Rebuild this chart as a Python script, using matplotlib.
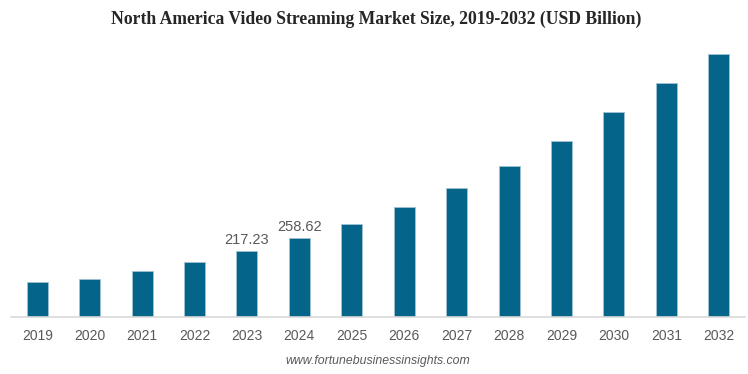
import matplotlib
matplotlib.use("Agg")
import matplotlib.pyplot as plt

years = ["2019", "2020", "2021", "2022", "2023", "2024", "2025", "2026",
         "2027", "2028", "2029", "2030", "2031", "2032"]
values = [113.7, 125.8, 149.8, 180.7, 217.23, 258.62, 306.5, 360.4,
          422.8, 495.0, 578.0, 673.0, 769.0, 864.0]
labels = {"2023": "217.23", "2024": "258.62"}

W, H = 748, 374
fig = plt.figure(figsize=(W / 100, H / 100), dpi=100)
ax_left, ax_right = 11 / W, 745 / W
ax_bottom, ax_top = 1 - 317 / H, 1 - 50 / H
ax = fig.add_axes([ax_left, ax_bottom, ax_right - ax_left, ax_top - ax_bottom])

x = list(range(len(years)))
ax.bar(x, values, width=0.4, color="#05648a", edgecolor="#9fc3d3", linewidth=0.6)
ax.set_xlim(-0.5, len(years) - 0.5)
ax.set_ylim(0, 864 * 267 / 263)

for i, (yr, v) in enumerate(zip(years, values)):
    if yr in labels:
        ax.annotate(labels[yr], (i, v), xytext=(0, 3), textcoords="offset points",
                    ha="center", va="bottom", fontsize=10.5, color="#595959",
                    family="Liberation Sans")

ax.set_xticks(x)
ax.set_xticklabels(years, fontsize=10, color="#595959", family="Liberation Sans")
ax.tick_params(axis="x", length=0, pad=9)
ax.set_yticks([])
for s in ["top", "right", "left"]:
    ax.spines[s].set_visible(False)
ax.spines["bottom"].set_color("#d9d9d9")
ax.spines["bottom"].set_linewidth(1.2)

fig.text(376 / W, 1 - 19 / H, "North America Video Streaming Market Size, 2019-2032 (USD Billion)",
         ha="center", va="center", fontsize=12.7, fontweight="bold",
         family="Liberation Serif", color="#262626")
fig.text(378 / W, 1 - 361 / H, "www.fortunebusinessinsights.com",
         ha="center", va="center", fontsize=8.8, style="italic",
         family="Liberation Sans", color="#595959")

fig.savefig("out.png", dpi=100)
